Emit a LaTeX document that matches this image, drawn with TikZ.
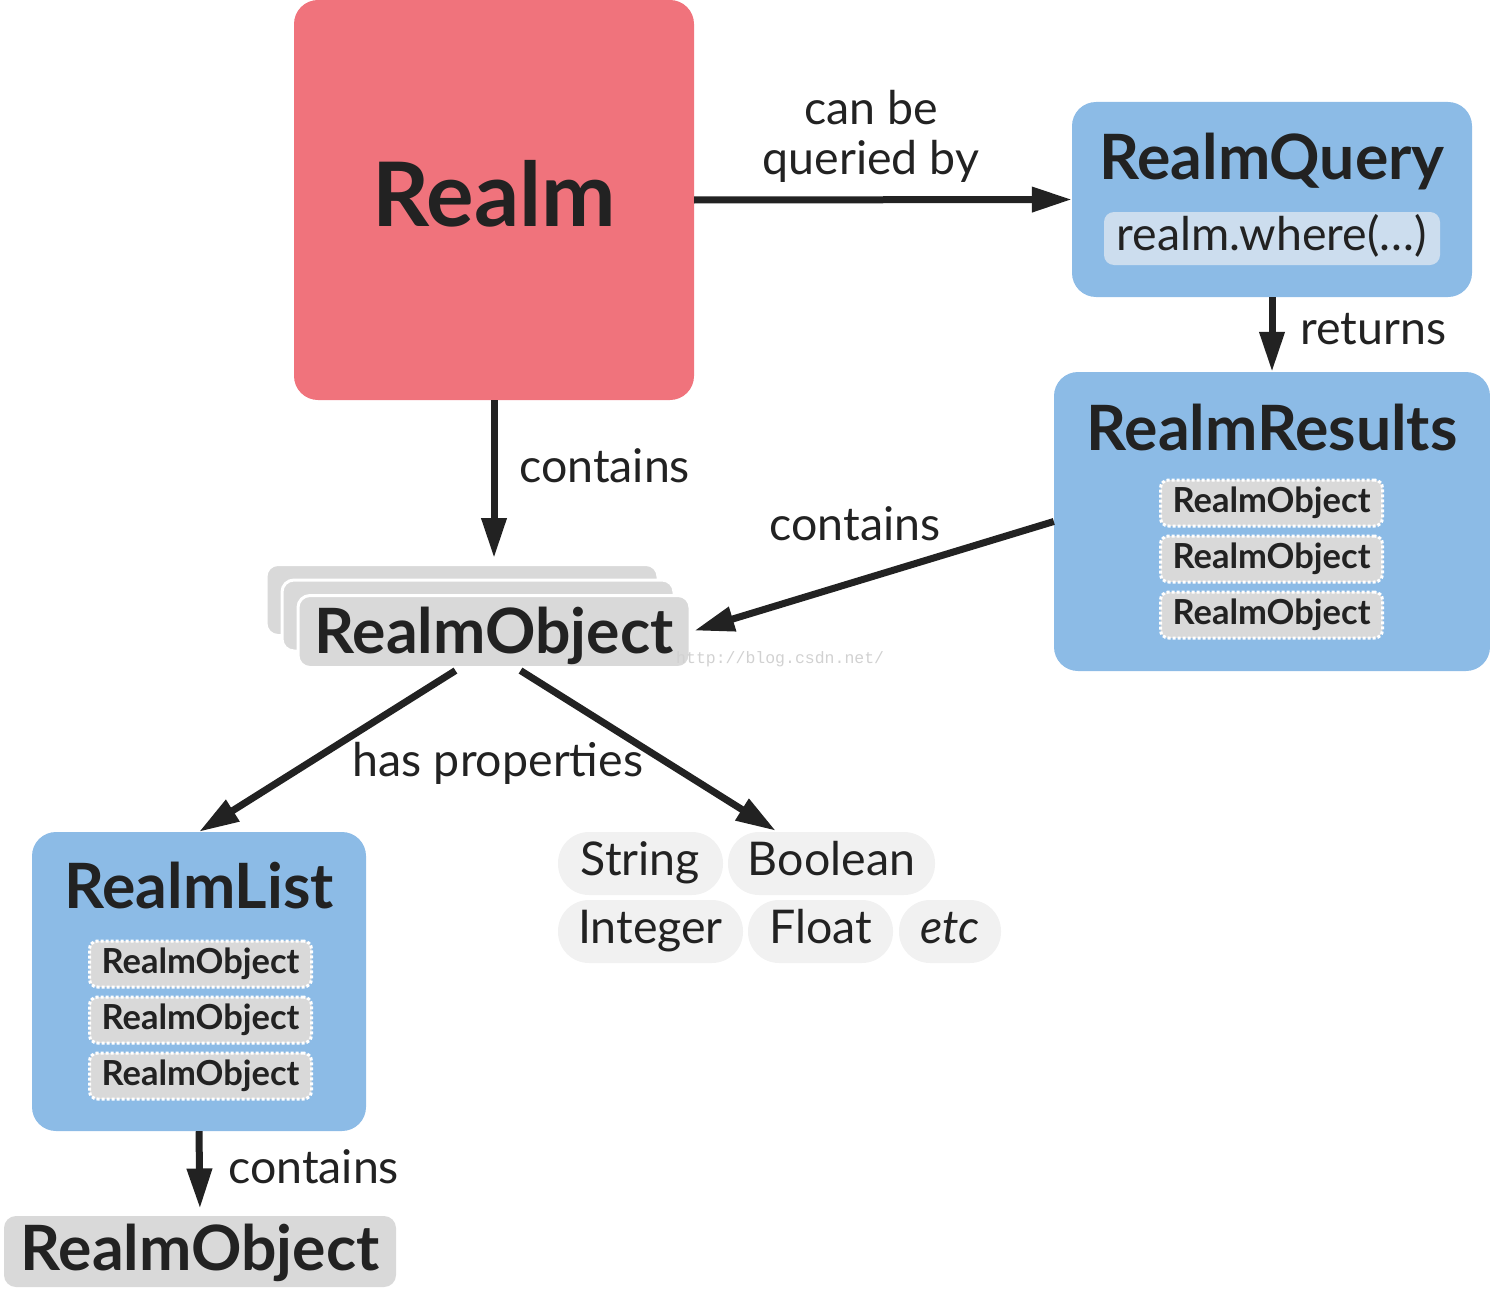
\documentclass[tikz,border=0pt]{standalone}
\usepackage{fontspec}
\setmainfont{Lato}
\newfontfamily\markfont{Liberation Mono}
\usetikzlibrary{arrows.meta}
\definecolor{realmRed}{HTML}{F0737C}
\definecolor{realmBlue}{HTML}{8CBBE6}
\definecolor{realmPale}{HTML}{CCDDEE}
\definecolor{realmGray}{HTML}{D9D9D9}
\definecolor{realmPill}{HTML}{F1F1F1}
\definecolor{realmInk}{HTML}{222222}

\begin{document}
\begin{tikzpicture}[x=1pt,y=-1pt,
    every node/.style={text=realmInk, inner sep=0pt},
    box/.style={rounded corners=24pt, minimum width=#1},
    title/.style={font=\bfseries\fontsize{62.5}{64}\selectfont, anchor=base},
    label/.style={font=\fontsize{46.5}{50}\selectfont},
    objbig/.style={fill=realmGray, draw=white, line width=3pt, rounded corners=12pt,
      minimum width=392pt, minimum height=71pt},
    objsmall/.style={fill=realmGray, draw=white, dotted, line width=3pt, rounded corners=8pt,
      minimum width=222pt, minimum height=46pt, text height=25pt, text depth=7pt,
      font=\bfseries\fontsize{34.5}{34.5}\selectfont},
    pill/.style={fill=realmPill, rounded corners=31pt, minimum height=63pt,
      text height=33pt, text depth=10pt, font=\fontsize{46.5}{46.5}\selectfont},
    flow/.style={-{Triangle[length=40pt,width=24pt]}, line width=7pt, draw=realmInk}]
    \useasboundingbox (0,0) rectangle (1490,1292);

    % Realm and its query
    \node[box=400pt, fill=realmRed, minimum height=400pt] (realm) at (494,200) {};
    \node[font=\bfseries\fontsize{89}{89}\selectfont, anchor=base] (realmTitle) at (494,226) {Realm};

    \node[box=400pt, fill=realmBlue, minimum height=195pt] (query) at (1272,199.5) {};
    \node[title] (queryTitle) at (1272,180) {RealmQuery};
    \node[fill=realmPale, rounded corners=10pt, minimum width=336pt, minimum height=53pt,
      text height=33pt, text depth=10pt, font=\fontsize{46.5}{46.5}\selectfont] (where) at (1272,238.5) {realm.where(\dots)};

    \node[box=436pt, fill=realmBlue, minimum height=299pt] (results) at (1272,521.5) {};
    \node[title] (resultsTitle) at (1272,450) {RealmResults};
    \node[objsmall] (resultsA) at (1271.5,503) {RealmObject};
    \node[objsmall] (resultsB) at (1271.5,559) {RealmObject};
    \node[objsmall] (resultsC) at (1271.5,615) {RealmObject};

    % stacked objects
    \node[objbig] (objBack) at (462,600) {};
    \node[objbig] (objMid) at (478,615.5) {};
    \node[objbig, minimum height=72pt] (object) at (494,631.5) {};
    \node[title] (objectTitle) at (494,653) {RealmObject};
    \node[font=\markfont\fontsize{16.5}{16.5}\selectfont, text=black!18, anchor=base west] (mark) at (676,663) {http://blog.csdn.net/};

    % list
    \node[box=334pt, fill=realmBlue, minimum height=299pt] (list) at (199,981.5) {};
    \node[title] (listTitle) at (199,908) {RealmList};
    \node[objsmall] (listA) at (200.5,964) {RealmObject};
    \node[objsmall] (listB) at (200.5,1020) {RealmObject};
    \node[objsmall] (listC) at (200.5,1076) {RealmObject};

    \node[objbig, draw=none] (single) at (200,1251.5) {};
    \node[title] (singleTitle) at (200,1270) {RealmObject};

    % property types
    \node[pill, minimum width=165pt] (string) at (640.5,863.5) {String};
    \node[pill, minimum width=207pt] (boolean) at (831.5,863.5) {Boolean};
    \node[pill, minimum width=185pt] (integer) at (650.5,931.5) {Integer};
    \node[pill, minimum width=145pt] (float) at (820.5,931.5) {Float};
    \node[pill, minimum width=102pt] (etc) at (950,931.5) {\itshape etc};

    % connectors
    \draw[flow] (realm.east) -- (query.west);
    \node[label, align=center] (queriedBy) at (871,136) {can be\\queried by};

    \draw[flow] (query.south) -- (results.north);
    \node[label, anchor=base west] (returns) at (1300,344) {returns};

    \draw[flow, shorten >=5pt] (realm.south) -- (realm.south |- objBack.north);
    \node[label, anchor=base west] (containsA) at (519,482) {contains};

    \draw[flow, shorten >=3pt] (results.west) -- (object.east);
    \node[label, anchor=base] (containsB) at (855,540) {contains};

    \draw[flow, shorten <=3pt] ([xshift=-36pt]object.south) -- (list.north);
    \draw[flow, shorten <=3pt, shorten >=2pt] ([xshift=24pt]object.south) -- ([xshift=-54pt]boolean.north);
    \node[label, anchor=base] (hasProps) at (498,776) {has properties};

    \draw[flow, shorten >=6pt] (list.south) -- (single.north);
    \node[label, anchor=base west] (containsC) at (228,1183) {contains};
\end{tikzpicture}
\end{document}
